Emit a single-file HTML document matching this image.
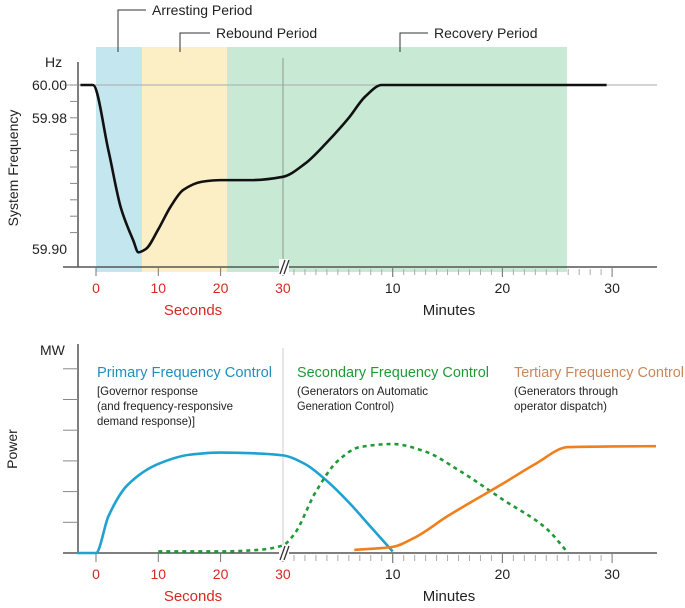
<!DOCTYPE html>
<html><head><meta charset="utf-8"><style>
body{margin:0;background:#fff}
svg{display:block;font-family:"Liberation Sans",sans-serif}
</style></head><body>
<svg id="c" width="685" height="608" viewBox="0 0 685 608">
<g id="top"></g><g id="bot"></g>
</svg>
<script>
// Top chart: system frequency (u: seconds 0-30, then 30+minutes)
const freqT = [-2.5,-0.5,2,4,6,6.8,8,10,12,14,17,20,25,30,32,34,36,37.5,39,45,59.5];
const freqV = [60,60,59.96,59.925,59.905,59.898,59.9,59.912,59.926,59.936,59.941,59.942,59.942,59.944,59.952,59.965,59.98,59.993,60,60,60];
const freqTicks = ["60.00","59.98","59.90"];
const freqTickVals = [60,59.98,59.90];
const secLabels = ["0","10","20","30"];
const secVals = [0,10,20,30];
const minLabels = ["10","20","30"];
const minVals = [10,20,30];
// Bottom chart: power (arbitrary units)
const primT = [-3,0,2,5,10,15,20,25,30,32,34,36,38,40];
const primV = [0,0,1.2,2.2,2.9,3.2,3.27,3.25,3.18,2.9,2.35,1.65,0.85,0.05];
const secT = [10,20,26,30,31,33,35,37,40,43,46,50,54,56];
const secV = [0.05,0.05,0.1,0.25,0.6,2.0,3.0,3.45,3.55,3.3,2.7,1.75,0.8,0.0];
const terT = [36.5,40,42,45,50,53,56,60,64];
const terV = [0.1,0.2,0.5,1.2,2.25,2.9,3.45,3.47,3.48];

const NS="http://www.w3.org/2000/svg";
function x(u){return u<=30?96+u*6.23:283+(u-30)*10.97;}
function yT(f){return 85+(60-f)*1640;}
function yB(p){return 553-p*30.7;}
function mk(parent,tag,attrs,txt){const e=document.createElementNS(NS,tag);for(const k in attrs)e.setAttribute(k,attrs[k]);if(txt!==undefined)e.textContent=txt;parent.appendChild(e);return e;}
// monotone cubic (Fritsch-Carlson)
function smooth(pts){
  const n=pts.length,dx=[],s=[],m=[];
  for(let i=0;i<n-1;i++){dx[i]=pts[i+1][0]-pts[i][0];s[i]=(pts[i+1][1]-pts[i][1])/dx[i];}
  m[0]=s[0];m[n-1]=s[n-2];
  for(let i=1;i<n-1;i++){ if(s[i-1]*s[i]<=0)m[i]=0; else {const w1=2*dx[i]+dx[i-1],w2=dx[i]+2*dx[i-1];m[i]=(w1+w2)/(w1/s[i-1]+w2/s[i]);}}
  let d="M"+pts[0][0]+","+pts[0][1];
  for(let i=0;i<n-1;i++){const h=dx[i]/3;
    d+=" C"+(pts[i][0]+h)+","+(pts[i][1]+m[i]*h)+" "+(pts[i+1][0]-h)+","+(pts[i+1][1]-m[i+1]*h)+" "+pts[i+1][0]+","+pts[i+1][1];}
  return d;}
function axis(g,ay){
  let l=mk(g,"line",{x1:63,y1:ay,x2:657,y2:ay,stroke:"#555","stroke-width":1.5});
  
  
  secVals.forEach((v,i)=>{
    mk(g,"line",{x1:x(v),y1:ay,x2:x(v),y2:ay+9,stroke:"#777"});
    const t=mk(g,"text",{x:x(v),y:ay+26,"text-anchor":"middle","font-size":14,fill:"#d42a20"},secLabels[i]);
    
    
  });
  for(let m=1;m<30;m++){mk(g,"line",{x1:x(30+m),y1:ay+2,x2:x(30+m),y2:ay+(m%10?8:10),stroke:"#aaa"});}
  minVals.forEach((v,i)=>{
    mk(g,"line",{x1:x(30+v),y1:ay,x2:x(30+v),y2:ay+10,stroke:"#777"});
    const t=mk(g,"text",{x:x(30+v),y:ay+26,"text-anchor":"middle","font-size":14,fill:"#222"},minLabels[i]);
    
    
  });
  mk(g,"rect",{x:279,y:ay-8,width:10,height:16,fill:"#fff"});
  mk(g,"path",{d:`M280,${ay+7} L285,${ay-7} M284,${ay+7} L289,${ay-7}`,stroke:"#333","stroke-width":1.3,fill:"none"});
  let s=mk(g,"text",{x:193,y:ay+48,"text-anchor":"middle","font-size":15,fill:"#d42a20"},"Seconds");
  
  
  let m=mk(g,"text",{x:449,y:ay+48,"text-anchor":"middle","font-size":15,fill:"#222"},"Minutes");
  
  
}
// ---- top
const T=document.getElementById("top");


[[96,142,"#c4e6ef","arresting-shade"],[142,227,"#fcefc6","rebound-shade"],[227,567,"#c8ead4","recovery-shade"]].forEach(r=>{
  const e=mk(T,"rect",{x:r[0],y:47,width:r[1]-r[0],height:225,fill:r[2]});
  
  
});
mk(T,"line",{x1:63,y1:yT(60),x2:657,y2:yT(60),stroke:"#aaa"});
mk(T,"line",{x1:283,y1:58,x2:283,y2:267,stroke:"#8a9a90"});
mk(T,"line",{x1:78,y1:62,x2:78,y2:267,stroke:"#555","stroke-width":1.5});
for(let k=0;k<=9;k++){const f=60-k*0.01;mk(T,"line",{x1:70,y1:yT(f),x2:78,y2:yT(f),stroke:"#888"});}
freqTickVals.forEach((v,i)=>{const t=mk(T,"text",{x:67,y:yT(v)+5,"text-anchor":"end","font-size":14,fill:"#222"},freqTicks[i]);
  
  });
let hz=mk(T,"text",{x:45,y:67,"font-size":14,fill:"#222"},"Hz");


let yt=mk(T,"text",{x:0,y:0,"font-size":14,fill:"#222","text-anchor":"middle",transform:"translate(18,168) rotate(-90)"},"System Frequency");


axis(T,267);
const fl=mk(T,"path",{d:smooth(freqT.map((t,i)=>[x(t),yT(freqV[i])])),fill:"none",stroke:"#111","stroke-width":2.6});


[[118,10,52,"Arresting Period",152,"arresting-label"],[180,33,52,"Rebound Period",216,"rebound-label"],[400,33,52,"Recovery Period",434,"recovery-label"]].forEach(a=>{
  mk(T,"path",{d:`M${a[0]},${a[2]} V${a[1]} H${a[4]-6}`,stroke:"#333",fill:"none"});
  const t=mk(T,"text",{x:a[4],y:a[1]+5,"font-size":14,fill:"#222"},a[3]);
  
  
});
// ---- bottom
const B=document.getElementById("bot");


mk(B,"line",{x1:283,y1:348,x2:283,y2:553,stroke:"#ccc"});
mk(B,"line",{x1:78,y1:344,x2:78,y2:553,stroke:"#555","stroke-width":1.5});
for(let k=1;k<=6;k++)mk(B,"line",{x1:63,y1:yB(k),x2:78,y2:yB(k),stroke:"#888"});
let mw=mk(B,"text",{x:40,y:355,"font-size":14,fill:"#222"},"MW");


let pt=mk(B,"text",{x:0,y:0,"font-size":14,fill:"#222","text-anchor":"middle",transform:"translate(17,449) rotate(-90)"},"Power");


axis(B,553);
const series=[[primT,primV,"#1fa2cf","primary-line",""],[secT,secV,"#1f9a35","secondary-line","4,4"],[terT,terV,"#f07f1c","tertiary-line",""]];
series.forEach(s=>{
  const p=mk(B,"path",{d:smooth(s[0].map((t,i)=>[x(t),yB(s[1][i])])),fill:"none",stroke:s[2],"stroke-width":2.6,"stroke-dasharray":s[4]});
  
  
});
[[97,"#1f8fc0","Primary Frequency Control",175,["[Governor response","(and frequency-responsive","demand response)]"],[101,136,98],"primary-legend"],
 [297,"#1f9a35","Secondary Frequency Control",192,["(Generators on Automatic","Generation Control)"],[131,97],"secondary-legend"],
 [514,"#c9875a","Tertiary Frequency Control",170,["(Generators through","operator dispatch)"],[104,93],"tertiary-legend"]].forEach(a=>{
  const t=mk(B,"text",{x:a[0],y:377,"font-size":15,fill:a[1],textLength:a[3],lengthAdjust:"spacingAndGlyphs"},a[2]);
  
  
  a[4].forEach((ln,i)=>{const n=mk(B,"text",{x:a[0],y:395+i*15,"font-size":12,fill:"#222",textLength:a[5][i],lengthAdjust:"spacingAndGlyphs"},ln);
    
    });
});
</script>
</body></html>
